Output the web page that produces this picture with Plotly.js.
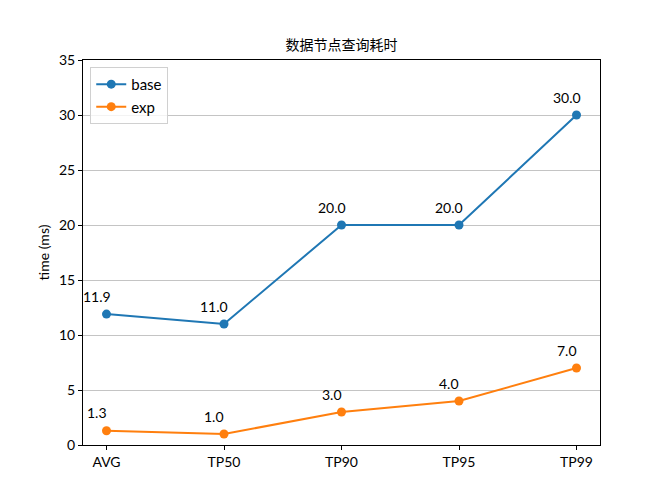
<!DOCTYPE html>
<html>
<head>
<meta charset="utf-8">
<script src="https://cdn.plot.ly/plotly-3.0.1.min.js"></script>
<style>
  html, body { margin: 0; padding: 0; background: #fff; }
  #chart { width: 667px; height: 500px; }
</style>
</head>
<body>
<div id="chart"></div>
<script>
var categories = ['AVG', 'TP50', 'TP90', 'TP95', 'TP99'];
var baseValues = [11.9, 11.0, 20.0, 20.0, 30.0];
var expValues = [1.3, 1.0, 3.0, 4.0, 7.0];

var font = 'Lato, "Noto Sans CJK SC", sans-serif';

var base = {
    type: 'scatter',
    mode: 'lines+markers',
    name: 'base',
    x: categories,
    y: baseValues,
    line: {color: '#1f77b4', width: 2},
    marker: {color: '#1f77b4', size: 9}
};

var exp = {
    type: 'scatter',
    mode: 'lines+markers',
    name: 'exp',
    x: categories,
    y: expValues,
    line: {color: '#ff7f0e', width: 2},
    marker: {color: '#ff7f0e', size: 9}
};

// value labels over every point
var annotations = [];
[baseValues, expValues].forEach(function (vals) {
    vals.forEach(function (v, i) {
        annotations.push({
            x: categories[i],
            y: v,
            text: v.toFixed(1),
            showarrow: false,
            xanchor: 'center',
            yanchor: 'middle',
            xshift: -10,
            yshift: 18,
            font: {size: 14, color: '#000', family: font}
        });
    });
});

var layout = {
    width: 667,
    height: 500,
    margin: {l: 83, r: 67, t: 60, b: 55},
    paper_bgcolor: '#fff',
    plot_bgcolor: '#fff',
    font: {family: font, size: 14, color: '#000'},
    title: {
        text: '数据节点查询耗时',
        x: 0.512,
        xanchor: 'center',
        y: 0.91,
        yanchor: 'middle',
        font: {size: 14, family: font}
    },
    xaxis: {
        type: 'category',
        range: [-0.2, 4.2],
        showgrid: false,
        showline: true,
        mirror: true,
        linecolor: '#000',
        linewidth: 1,
        ticks: 'outside',
        ticklen: 4,
        tickcolor: '#000',
        tickfont: {size: 14},
        fixedrange: true
    },
    yaxis: {
        title: {text: 'time (ms)', font: {size: 14}, standoff: 6},
        range: [0, 35],
        dtick: 5,
        showgrid: true,
        gridcolor: '#c4c4c4',
        gridwidth: 1,
        zeroline: false,
        showline: true,
        mirror: true,
        linecolor: '#000',
        linewidth: 1,
        ticks: 'outside',
        ticklen: 4,
        tickcolor: '#000',
        tickfont: {size: 14},
        fixedrange: true
    },
    legend: {
        x: 0.014,
        y: 0.982,
        xanchor: 'left',
        yanchor: 'top',
        bgcolor: 'rgba(255,255,255,0.8)',
        bordercolor: '#d0d0d0',
        borderwidth: 1,
        font: {size: 15}
    },
    showlegend: true,
    annotations: annotations
};

Plotly.newPlot('chart', [base, exp], layout, {displayModeBar: false, staticPlot: true});
</script>
</body>
</html>
